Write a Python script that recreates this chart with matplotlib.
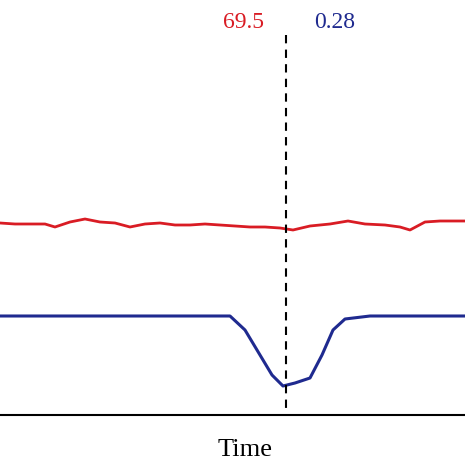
import matplotlib.pyplot as plt

# time in pixel-like units, signal values as screen-height units
t_red = [0, 15, 30, 45, 55, 70, 85, 100, 115, 130, 145, 160, 175, 190, 205, 220,
         235, 250, 265, 280, 293, 310, 330, 348, 365, 385, 400, 410, 425, 440, 465]
red = [223, 224, 224, 224, 227, 222, 219, 222, 223, 227, 224, 223, 225, 225, 224, 225,
       226, 227, 227, 228, 230, 226, 224, 221, 224, 225, 227, 230, 222, 221, 221]

t_blue = [0, 230, 245, 260, 272, 283, 295, 310, 322, 333, 345, 370, 465]
blue = [316, 316, 330, 355, 375, 386, 383, 378, 355, 330, 319, 316, 316]

marker_t = 286
red_label = '69.5'
blue_label = '0.28'

plt.rcParams['font.family'] = ['Liberation Serif', 'DejaVu Serif']

fig = plt.figure(figsize=(4.65, 4.65), dpi=100)
ax = fig.add_axes([0, 0, 1, 1])
ax.set_xlim(0, 465)
ax.set_ylim(465, 0)
ax.axis('off')

ax.plot(t_red, red, color='#d91c24', lw=2)
ax.plot(t_blue, blue, color='#1f2a8f', lw=2.2)
ax.plot([marker_t, marker_t], [35, 415], color='black', lw=1.5, ls=(0, (4, 3)))
ax.plot([0, 465], [415, 415], color='black', lw=1.5)

ax.text(marker_t - 22, 22, red_label, color='#d91c24', fontsize=17, ha='right', va='center')
ax.text(marker_t + 28, 22, blue_label, color='#1f2a8f', fontsize=17, ha='left', va='center')
ax.text(245, 450, 'Time', color='black', fontsize=19, ha='center', va='center')

fig.savefig('out.png', dpi=100)
